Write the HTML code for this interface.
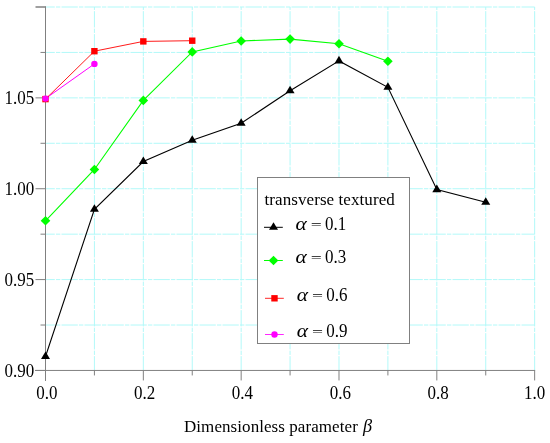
<!DOCTYPE html>
<html><head><meta charset="utf-8"><style>
html,body{margin:0;padding:0;background:#fff;}
svg{display:block;}
.t{font-family:"Liberation Serif",serif;font-size:17px;fill:#000;}
.l{font-family:"Liberation Serif",serif;font-size:17px;fill:#000;}
.a{font-family:"Liberation Serif",serif;font-size:19.5px;font-style:italic;fill:#000;}
.b{font-family:"Liberation Serif",serif;font-size:18.3px;font-style:italic;fill:#000;}
</style></head><body>
<svg width="550" height="443" viewBox="0 0 550 443">
<rect width="550" height="443" fill="#fff"/>
<line x1="94.41" y1="370.45" x2="94.41" y2="7.0" stroke="#b2f9f9" stroke-width="1" stroke-dasharray="16.3 1.2 4.3 1.2" stroke-dashoffset="2"/>
<line x1="143.33" y1="370.45" x2="143.33" y2="7.0" stroke="#b2f9f9" stroke-width="1" stroke-dasharray="16.3 1.2 4.3 1.2" stroke-dashoffset="2"/>
<line x1="192.24" y1="370.45" x2="192.24" y2="7.0" stroke="#b2f9f9" stroke-width="1" stroke-dasharray="16.3 1.2 4.3 1.2" stroke-dashoffset="2"/>
<line x1="241.16" y1="370.45" x2="241.16" y2="7.0" stroke="#b2f9f9" stroke-width="1" stroke-dasharray="16.3 1.2 4.3 1.2" stroke-dashoffset="2"/>
<line x1="290.07" y1="370.45" x2="290.07" y2="7.0" stroke="#b2f9f9" stroke-width="1" stroke-dasharray="16.3 1.2 4.3 1.2" stroke-dashoffset="2"/>
<line x1="338.99" y1="370.45" x2="338.99" y2="7.0" stroke="#b2f9f9" stroke-width="1" stroke-dasharray="16.3 1.2 4.3 1.2" stroke-dashoffset="2"/>
<line x1="387.90" y1="370.45" x2="387.90" y2="7.0" stroke="#b2f9f9" stroke-width="1" stroke-dasharray="16.3 1.2 4.3 1.2" stroke-dashoffset="2"/>
<line x1="436.82" y1="370.45" x2="436.82" y2="7.0" stroke="#b2f9f9" stroke-width="1" stroke-dasharray="16.3 1.2 4.3 1.2" stroke-dashoffset="2"/>
<line x1="485.74" y1="370.45" x2="485.74" y2="7.0" stroke="#b2f9f9" stroke-width="1" stroke-dasharray="16.3 1.2 4.3 1.2" stroke-dashoffset="2"/>
<line x1="534.65" y1="370.45" x2="534.65" y2="7.0" stroke="#b2f9f9" stroke-width="1" stroke-dasharray="16.3 1.2 4.3 1.2" stroke-dashoffset="2"/>
<line x1="45.5" y1="325.02" x2="534.65" y2="325.02" stroke="#b2f9f9" stroke-width="1" stroke-dasharray="16.3 1.2 4.3 1.2" stroke-dashoffset="7"/>
<line x1="45.5" y1="279.59" x2="534.65" y2="279.59" stroke="#b2f9f9" stroke-width="1" stroke-dasharray="16.3 1.2 4.3 1.2" stroke-dashoffset="7"/>
<line x1="45.5" y1="234.16" x2="534.65" y2="234.16" stroke="#b2f9f9" stroke-width="1" stroke-dasharray="16.3 1.2 4.3 1.2" stroke-dashoffset="7"/>
<line x1="45.5" y1="188.73" x2="534.65" y2="188.73" stroke="#b2f9f9" stroke-width="1" stroke-dasharray="16.3 1.2 4.3 1.2" stroke-dashoffset="7"/>
<line x1="45.5" y1="143.29" x2="534.65" y2="143.29" stroke="#b2f9f9" stroke-width="1" stroke-dasharray="16.3 1.2 4.3 1.2" stroke-dashoffset="7"/>
<line x1="45.5" y1="97.86" x2="534.65" y2="97.86" stroke="#b2f9f9" stroke-width="1" stroke-dasharray="16.3 1.2 4.3 1.2" stroke-dashoffset="7"/>
<line x1="45.5" y1="52.43" x2="534.65" y2="52.43" stroke="#b2f9f9" stroke-width="1" stroke-dasharray="16.3 1.2 4.3 1.2" stroke-dashoffset="7"/>
<line x1="45.5" y1="7.00" x2="534.65" y2="7.00" stroke="#b2f9f9" stroke-width="1.2" stroke-dasharray="16.3 1.2 4.3 1.2" stroke-dashoffset="7"/>
<line x1="45.5" y1="6.25" x2="45.5" y2="380.95" stroke="#808080" stroke-width="1"/>
<line x1="35.0" y1="370.45" x2="535.15" y2="370.45" stroke="#808080" stroke-width="1"/>
<line x1="45.50" y1="370.45" x2="45.50" y2="380.45" stroke="#808080" stroke-width="1"/>
<line x1="94.41" y1="370.45" x2="94.41" y2="375.45" stroke="#808080" stroke-width="1"/>
<line x1="143.33" y1="370.45" x2="143.33" y2="380.45" stroke="#808080" stroke-width="1"/>
<line x1="192.24" y1="370.45" x2="192.24" y2="375.45" stroke="#808080" stroke-width="1"/>
<line x1="241.16" y1="370.45" x2="241.16" y2="380.45" stroke="#808080" stroke-width="1"/>
<line x1="290.07" y1="370.45" x2="290.07" y2="375.45" stroke="#808080" stroke-width="1"/>
<line x1="338.99" y1="370.45" x2="338.99" y2="380.45" stroke="#808080" stroke-width="1"/>
<line x1="387.90" y1="370.45" x2="387.90" y2="375.45" stroke="#808080" stroke-width="1"/>
<line x1="436.82" y1="370.45" x2="436.82" y2="380.45" stroke="#808080" stroke-width="1"/>
<line x1="485.74" y1="370.45" x2="485.74" y2="375.45" stroke="#808080" stroke-width="1"/>
<line x1="534.65" y1="370.45" x2="534.65" y2="380.45" stroke="#808080" stroke-width="1"/>
<line x1="35.5" y1="370.45" x2="45.5" y2="370.45" stroke="#808080" stroke-width="1"/>
<line x1="40.5" y1="325.02" x2="45.5" y2="325.02" stroke="#808080" stroke-width="1"/>
<line x1="35.5" y1="279.59" x2="45.5" y2="279.59" stroke="#808080" stroke-width="1"/>
<line x1="40.5" y1="234.16" x2="45.5" y2="234.16" stroke="#808080" stroke-width="1"/>
<line x1="35.5" y1="188.73" x2="45.5" y2="188.73" stroke="#808080" stroke-width="1"/>
<line x1="40.5" y1="143.29" x2="45.5" y2="143.29" stroke="#808080" stroke-width="1"/>
<line x1="35.5" y1="97.86" x2="45.5" y2="97.86" stroke="#808080" stroke-width="1"/>
<line x1="40.5" y1="52.43" x2="45.5" y2="52.43" stroke="#808080" stroke-width="1"/>
<line x1="35.5" y1="7.00" x2="45.5" y2="7.00" stroke="#808080" stroke-width="1.5"/>
<text transform="translate(46.80,399) scale(1,1.09)" text-anchor="middle" class="t">0.0</text>
<text transform="translate(144.63,399) scale(1,1.09)" text-anchor="middle" class="t">0.2</text>
<text transform="translate(242.46,399) scale(1,1.09)" text-anchor="middle" class="t">0.4</text>
<text transform="translate(340.29,399) scale(1,1.09)" text-anchor="middle" class="t">0.6</text>
<text transform="translate(438.12,399) scale(1,1.09)" text-anchor="middle" class="t">0.8</text>
<text transform="translate(534.65,399) scale(1,1.09)" text-anchor="middle" class="t">1.0</text>
<text transform="translate(34.3,376.55) scale(1,1.09)" text-anchor="end" class="t">0.90</text>
<text transform="translate(34.3,285.69) scale(1,1.09)" text-anchor="end" class="t">0.95</text>
<text transform="translate(34.3,194.83) scale(1,1.09)" text-anchor="end" class="t">1.00</text>
<text transform="translate(34.3,103.96) scale(1,1.09)" text-anchor="end" class="t">1.05</text>
<polyline points="45.50,356.50 94.41,209.30 143.33,161.50 192.24,140.30 241.16,123.30 290.07,90.70 338.99,60.90 387.90,87.30 436.82,189.60 485.74,202.20" fill="none" stroke="#000" stroke-width="1.1"/>
<polyline points="45.50,220.80 94.41,169.50 143.33,100.40 192.24,51.90 241.16,41.00 290.07,39.10 338.99,43.80 387.90,61.30" fill="none" stroke="#00ff00" stroke-width="1.1"/>
<polyline points="45.50,99.10 94.41,51.20 143.33,41.40 192.24,40.70" fill="none" stroke="#ff0000" stroke-width="0.9"/>
<polyline points="45.50,98.60 94.41,63.90" fill="none" stroke="#ff00ff" stroke-width="1"/>
<polygon points="45.50,351.43 50.00,359.03 41.00,359.03" fill="#000"/>
<polygon points="94.41,204.23 98.91,211.83 89.91,211.83" fill="#000"/>
<polygon points="143.33,156.43 147.83,164.03 138.83,164.03" fill="#000"/>
<polygon points="192.24,135.23 196.74,142.83 187.74,142.83" fill="#000"/>
<polygon points="241.16,118.23 245.66,125.83 236.66,125.83" fill="#000"/>
<polygon points="290.07,85.63 294.57,93.23 285.57,93.23" fill="#000"/>
<polygon points="338.99,55.83 343.49,63.43 334.49,63.43" fill="#000"/>
<polygon points="387.90,82.23 392.40,89.83 383.40,89.83" fill="#000"/>
<polygon points="436.82,184.53 441.32,192.13 432.32,192.13" fill="#000"/>
<polygon points="485.74,197.13 490.24,204.73 481.24,204.73" fill="#000"/>
<polygon points="45.50,216.00 50.30,220.80 45.50,225.60 40.70,220.80" fill="#00ff00"/>
<polygon points="94.41,164.70 99.21,169.50 94.41,174.30 89.61,169.50" fill="#00ff00"/>
<polygon points="143.33,95.60 148.13,100.40 143.33,105.20 138.53,100.40" fill="#00ff00"/>
<polygon points="192.24,47.10 197.04,51.90 192.24,56.70 187.44,51.90" fill="#00ff00"/>
<polygon points="241.16,36.20 245.96,41.00 241.16,45.80 236.36,41.00" fill="#00ff00"/>
<polygon points="290.07,34.30 294.88,39.10 290.07,43.90 285.27,39.10" fill="#00ff00"/>
<polygon points="338.99,39.00 343.79,43.80 338.99,48.60 334.19,43.80" fill="#00ff00"/>
<polygon points="387.90,56.50 392.70,61.30 387.90,66.10 383.10,61.30" fill="#00ff00"/>
<rect x="42.30" y="95.90" width="6.40" height="6.40" fill="#ff0000"/>
<rect x="91.21" y="48.00" width="6.40" height="6.40" fill="#ff0000"/>
<rect x="140.13" y="38.20" width="6.40" height="6.40" fill="#ff0000"/>
<rect x="189.04" y="37.50" width="6.40" height="6.40" fill="#ff0000"/>
<circle cx="45.50" cy="98.60" r="3.2" fill="#ff00ff"/>
<circle cx="94.41" cy="63.90" r="3.2" fill="#ff00ff"/>
<rect x="257.5" y="177.5" width="152" height="166" fill="#fff" stroke="#808080" stroke-width="1"/>
<text x="264.5" y="205.4" class="l" textLength="130.3" lengthAdjust="spacing">transverse textured</text>
<line x1="264.0" y1="227.3" x2="282.8" y2="227.3" stroke="#000" stroke-width="1"/>
<polygon points="273.50,222.23 278.00,229.83 269.00,229.83" fill="#000"/>
<text transform="translate(295.6,230.0) scale(1.1,0.98)" class="a">α</text>
<text transform="translate(310.8,229.1) scale(1.15,0.72)" class="l">=</text>
<text transform="translate(325.1,230.0) scale(1,1.1)" class="l">0.1</text>
<line x1="264.0" y1="260.5" x2="282.8" y2="260.5" stroke="#00ff00" stroke-width="1"/>
<polygon points="273.50,255.70 278.30,260.50 273.50,265.30 268.70,260.50" fill="#00ff00"/>
<text transform="translate(295.6,263.3) scale(1.1,0.98)" class="a">α</text>
<text transform="translate(310.8,262.4) scale(1.15,0.72)" class="l">=</text>
<text transform="translate(325.1,263.3) scale(1,1.1)" class="l">0.3</text>
<line x1="265.0" y1="298.3" x2="283.8" y2="298.3" stroke="#ff0000" stroke-width="0.85"/>
<rect x="271.29" y="295.10" width="6.40" height="6.40" fill="#ff0000"/>
<text transform="translate(296.7,300.6) scale(1.1,0.98)" class="a">α</text>
<text transform="translate(311.9,299.7) scale(1.15,0.72)" class="l">=</text>
<text transform="translate(326.2,300.6) scale(1,1.1)" class="l">0.6</text>
<line x1="265.0" y1="334.5" x2="283.8" y2="334.5" stroke="#ff00ff" stroke-width="0.85"/>
<circle cx="274.49" cy="334.50" r="3.2" fill="#ff00ff"/>
<text transform="translate(296.7,337.1) scale(1.1,0.98)" class="a">α</text>
<text transform="translate(311.9,336.2) scale(1.15,0.72)" class="l">=</text>
<text transform="translate(326.2,337.1) scale(1,1.1)" class="l">0.9</text>
<text transform="translate(184,431.7) scale(1,1.035)" class="l" textLength="173.8" lengthAdjust="spacing">Dimensionless parameter</text><text x="363" y="431.7" class="b">β</text>
</svg>
</body></html>
